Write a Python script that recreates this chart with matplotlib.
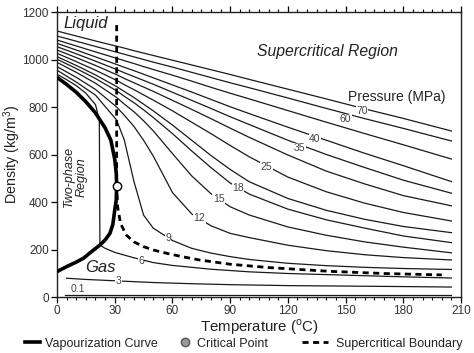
import matplotlib
matplotlib.use("Agg")
import matplotlib.pyplot as plt
from matplotlib.lines import Line2D

plt.rcParams['font.family'] = ['Liberation Sans', 'DejaVu Sans']
plt.rcParams['mathtext.fontset'] = 'custom'
plt.rcParams['mathtext.rm'] = 'Liberation Sans'

# ---------------- data ----------------
T_grid = [0, 10, 20, 31, 35, 40, 45, 50, 60, 70, 80, 90, 100, 120, 140, 160, 180, 205]

rho_70 = [1120, 1099, 1078, 1056, 1048, 1037, 1027, 1017, 997, 977, 957, 937, 916, 875, 834, 792, 752, 699]
rho_60 = [1099, 1077, 1055, 1031, 1022, 1011, 1000, 989, 968, 946, 924, 902, 881, 838, 794, 751, 710, 657]
rho_50 = [1082, 1057, 1032, 1005, 995, 983, 970, 958, 934, 909, 883, 858, 834, 785, 736, 688, 641, 581]
rho_40 = [1068, 1040, 1011, 979, 967, 953, 938, 923, 893, 863, 832, 801, 772, 715, 660, 605, 553, 486]
rho_35 = [1054, 1024, 993, 958, 944, 928, 912, 896, 862, 828, 794, 759, 726, 660, 600, 545, 492, 437]
rho_30 = [1040, 1008, 975, 936, 920, 902, 884, 866, 828, 790, 751, 711, 672, 598, 530, 476, 427, 384]
rho_25 = [1026, 991, 955, 912, 894, 873, 851, 829, 784, 736, 688, 638, 590, 505, 443, 395, 356, 320]
rho_20 = [1012, 975, 935, 886, 865, 840, 812, 784, 724, 660, 596, 537, 485, 415, 365, 327, 297, 271]
rho_18 = [1001, 962, 920, 868, 845, 818, 788, 756, 688, 615, 545, 480, 433, 370, 325, 290, 257, 229]
rho_15 = [988, 946, 900, 840, 812, 780, 742, 700, 604, 510, 435, 380, 345, 295, 260, 232, 210, 186]
rho_12 = [970, 925, 874, 800, 765, 718, 660, 594, 440, 350, 300, 268, 250, 218, 195, 178, 166, 156]
rho_9 = [955, 905, 850, 745, 660, 486, 345, 290, 238, 205, 185, 170, 158, 142, 132, 125, 120, 116]

T_6 = [0, 5, 10, 15, 20, 22, 22.3, 25, 30, 40, 50, 60, 80, 100, 120, 150, 180, 205]
rho_6 = [938, 915, 890, 858, 810, 745, 219, 205, 188, 165, 145, 133, 117, 106, 99, 92, 85, 80]

T_3 = [5, 15, 31, 50, 70, 90, 120, 150, 180, 205]
rho_3 = [79, 74, 68, 61, 56, 52, 48, 46, 44, 42]

T_01 = [4, 205]
rho_01 = [10, 10]

T_vap = [0, 5, 10, 15, 20, 25, 28, 30, 30.8, 31, 30.8, 30, 29, 27.5, 25, 22.3, 17, 13.7, 10, 5, 0]
rho_vap = [925, 895, 862, 822, 775, 712, 660, 580, 520, 467, 410, 366, 305, 268, 240, 219, 185, 163, 147, 128, 107]

T_crit, rho_crit = 31.0, 467

T_sc = [31, 31, 31.5, 33, 36, 40, 45, 50, 57, 65, 74, 90, 110, 142, 170, 200]
rho_sc = [1145, 467, 380, 310, 261, 232, 212, 198, 184, 170, 156, 138, 124, 108, 99, 93]

isobar_labels = ['70', '60', '40', '35', '25', '18', '15', '12', '9', '6', '3', '0.1']
label_T = [158.5, 150, 134, 126, 109, 94, 84, 74, 57.7, 43.7, 32, 11]
label_rho = [783, 749, 665, 627, 547, 459, 413, 332, 248, 152, 67, 34]

legend_labels = ['Vapourization Curve', 'Critical Point', 'Supercritical Boundary']

# ---------------- figure ----------------
fig = plt.figure(figsize=(4.74, 3.53), dpi=100)
ax = fig.add_axes([0.1203, 0.1586, 0.8523, 0.8074])

lw = 0.9
for rho in [rho_70, rho_60, rho_50, rho_40, rho_35, rho_30, rho_25, rho_20,
            rho_18, rho_15, rho_12, rho_9]:
    ax.plot(T_grid, rho, color='#1a1a1a', lw=lw, zorder=2)
ax.plot(T_6, rho_6, color='#1a1a1a', lw=lw, zorder=2)
ax.plot(T_3, rho_3, color='#1a1a1a', lw=lw, zorder=2)
ax.plot(T_01, rho_01, color='#1a1a1a', lw=lw, zorder=2)

ax.plot(T_vap, rho_vap, color='black', lw=2.6, zorder=3, solid_capstyle='butt')
ax.plot(T_sc, rho_sc, color='black', lw=2.0, ls=(0, (2.2, 1.6)), zorder=3)
ax.plot([T_crit], [rho_crit], 'o', ms=6, mfc='white', mec='black', mew=1.0, zorder=5)

for s, x, y in zip(isobar_labels, label_T, label_rho):
    ax.text(x, y, s, fontsize=7.5, color='#444444', ha='center', va='center', zorder=4,
            bbox=dict(facecolor='white', edgecolor='none', pad=0.3))

ax.text(3.5, 1150, 'Liquid', fontsize=12, style='italic', ha='left', va='center', color='#222222')
ax.text(104, 1033, 'Supercritical Region', fontsize=11.3, style='italic', ha='left', va='center', color='#222222')
ax.text(151, 843, 'Pressure (MPa)', fontsize=10, ha='left', va='center', color='#222222')
ax.text(14.5, 126, 'Gas', fontsize=12, style='italic', ha='left', va='center', color='#222222')
ax.text(9.5, 506, 'Two-phase\nRegion', fontsize=9, style='italic', rotation=90,
        ha='center', va='center', color='#222222', linespacing=1.0)

ax.set_xlim(0, 210)
ax.set_ylim(0, 1200)
ax.set_xticks(range(0, 211, 30))
ax.set_xticks(range(0, 211, 5), minor=True)
ax.set_yticks(range(0, 1201, 200))
ax.tick_params(axis='x', which='major', direction='out', length=4, width=0.9,
               top=True, labelsize=8.5, labelcolor='#333333', pad=2)
ax.tick_params(axis='x', which='minor', direction='out', length=2.5, width=0.8, top=True)
ax.tick_params(axis='y', which='major', direction='out', length=4, width=0.9,
               labelsize=8.5, labelcolor='#333333', pad=2)
for sp in ax.spines.values():
    sp.set_linewidth(1.0)
    sp.set_color('#222222')

ax.set_xlabel(r'Temperature ($^{\rm o}$C)', fontsize=10.8, color='#222222')
ax.xaxis.set_label_coords(0.5, -0.071)
ax.set_ylabel(r'Density (kg/m$^{\rm 3}$)', fontsize=10.3, color='#222222')
ax.yaxis.set_label_coords(-0.083, 0.5)

handles = [
    Line2D([], [], color='black', lw=2.6),
    Line2D([], [], ls='none', marker='o', ms=6, mfc='#999999', mec='#555555'),
    Line2D([], [], color='black', lw=2.0, ls=(0, (2.2, 1.6))),
]
legend_x = [25 / 474, 179 / 474, 302 / 474]
handle_len = [1.2, 0.9, 2.1]
text_pad = [0.4, 0.55, 0.65]
for h, lab, x0, hl, tp in zip(handles, legend_labels, legend_x, handle_len, text_pad):
    fig.legend([h], [lab], loc='center left', bbox_to_anchor=(x0, 0.026), frameon=False,
               fontsize=9, handlelength=hl, handletextpad=tp, labelcolor='#222222',
               borderpad=0, borderaxespad=0)

fig.savefig('out.png', dpi=100)
